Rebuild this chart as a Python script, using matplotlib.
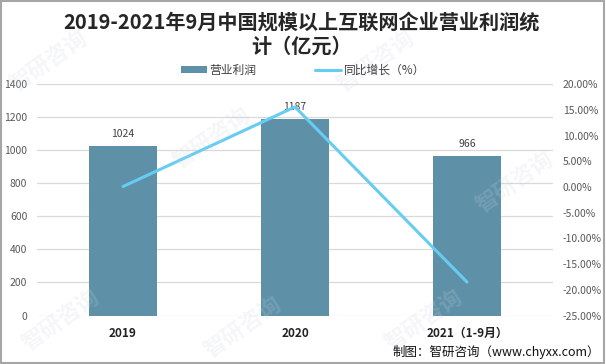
import matplotlib
matplotlib.use("Agg")
import matplotlib.pyplot as plt
from matplotlib.patches import Rectangle
import numpy as np

plt.rcParams['font.family'] = ['Noto Sans CJK SC', 'DejaVu Sans']

categories = ["2019", "2020", "2021（1-9月）"]
profit = [1024, 1187, 966]
growth = [0.1, 15.6, -18.5]
left_ticks = [0, 200, 400, 600, 800, 1000, 1200, 1400]
right_ticks = [-25, -20, -15, -10, -5, 0, 5, 10, 15, 20]

bar_color = "#5E91A8"
line_color = "#66CCF2"

fig = plt.figure(figsize=(6.06, 3.64), dpi=100)
ax = fig.add_axes([37/606, 1-315.5/364, (553-37)/606, (315.5-84.3)/364])
x = np.arange(len(categories))
bars = ax.bar(x, profit, width=0.4, color=bar_color, label="营业利润", zorder=2)
ax.set_xlim(-0.5, 2.5)
ax.set_ylim(0, 1400)
ax.set_yticks(left_ticks)
ax.set_yticklabels([str(t) for t in left_ticks])
ax.grid(axis='y', color='#D9D9D9', linewidth=0.9, zorder=0)
for s in ax.spines.values():
    s.set_visible(False)
ax.tick_params(axis='y', length=0, labelsize=7.5, labelcolor='#595959', pad=7)
ax.tick_params(axis='x', length=0, pad=8)
ax.set_xticks(x)
ax.set_xticklabels(categories, fontsize=8.5, fontweight='bold', color='#222222')
for xi, v in zip(x, profit):
    ax.text(xi, v + 45, str(v), ha='center', va='bottom', fontsize=7.5, color='#404040', zorder=4)

ax2 = ax.twinx()
ax2.plot(x, growth, color=line_color, linewidth=2.2, label="同比增长（%）", zorder=3, solid_capstyle='round')
ax2.set_ylim(-25, 20)
ax2.set_yticks(right_ticks)
ax2.set_yticklabels([f"{t:.2f}%" for t in right_ticks])
for s in ax2.spines.values():
    s.set_visible(False)
ax2.tick_params(axis='y', length=0, labelsize=7.5, labelcolor='#595959', pad=7)

# legend
h1, l1 = ax.get_legend_handles_labels()
h2, l2 = ax2.get_legend_handles_labels()
fig.legend(h1 + h2, l1 + l2, loc='center', bbox_to_anchor=(0.5, 1-70/364), ncol=2,
           frameon=False, fontsize=8.5, handlelength=2.2, handleheight=0.5,
           columnspacing=5.0, handletextpad=0.2, labelcolor='#404040')

fig.text(0.497, 1-22/364, "2019-2021年9月中国规模以上互联网企业营业利润统", ha='center', va='center',
         fontsize=14.5, fontweight='bold', color='#262626')
fig.text(0.497, 1-46/364, "计（亿元）", ha='center', va='center',
         fontsize=14.5, fontweight='bold', color='#262626')

fig.text(0.99, 1-352/364, "制图：智研咨询（www.chyxx.com）", ha='right', va='center',
         fontsize=9, color='#111111')

# faint watermarks
for (wx, wy) in [(0.08, 0.83), (0.35, 0.62), (0.62, 0.83), (0.1, 0.12), (0.4, 0.1), (0.7, 0.12), (0.85, 0.5)]:
    fig.text(wx, wy, "智研咨询", rotation=35, fontsize=16, fontweight='bold', color='#C8D3E0', alpha=0.2,
             ha='center', va='center', zorder=0)

fig.patches.append(Rectangle((0.001, 0.003), 0.995, 0.994, transform=fig.transFigure,
                             fill=False, edgecolor='#A6A6A6', linewidth=1.5))

fig.savefig("out.png", dpi=100)
